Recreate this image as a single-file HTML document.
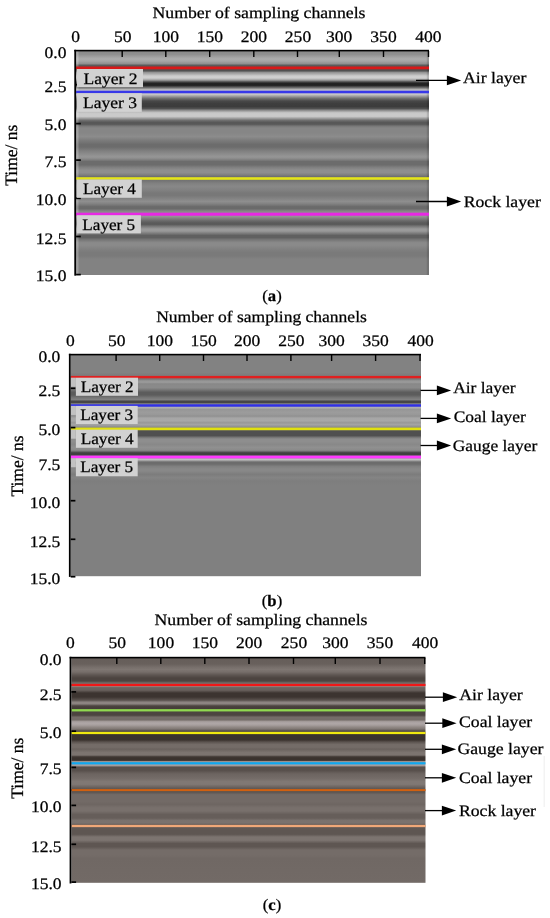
<!DOCTYPE html>
<html><head><meta charset="utf-8"><title>Radar profiles</title>
<style>
html,body{margin:0;padding:0;background:#fff;}
body{width:550px;height:918px;overflow:hidden;}
svg{display:block;font-family:"Liberation Serif","Times New Roman",serif;font-size:16px;fill:#000;text-rendering:geometricPrecision;}
text{stroke:#000;stroke-width:0.25px;}
</style></head><body>
<svg width="550" height="918" viewBox="0 0 550 918">
<defs><linearGradient id="ga" gradientUnits="userSpaceOnUse" x1="0" y1="51" x2="0" y2="275.0"><stop offset="0.0000" stop-color="#888888"/><stop offset="0.0156" stop-color="#909090"/><stop offset="0.0304" stop-color="#a6a6a6"/><stop offset="0.0357" stop-color="#acacac"/><stop offset="0.0446" stop-color="#a6a6a6"/><stop offset="0.0567" stop-color="#909090"/><stop offset="0.0638" stop-color="#5c5c5c"/><stop offset="0.0683" stop-color="#585858"/><stop offset="0.0848" stop-color="#505050"/><stop offset="0.0893" stop-color="#525252"/><stop offset="0.0946" stop-color="#909090"/><stop offset="0.1036" stop-color="#b0b0b0"/><stop offset="0.1116" stop-color="#cecece"/><stop offset="0.1205" stop-color="#d0d0d0"/><stop offset="0.1295" stop-color="#a0a0a0"/><stop offset="0.1384" stop-color="#484848"/><stop offset="0.1442" stop-color="#242424"/><stop offset="0.1531" stop-color="#202020"/><stop offset="0.1621" stop-color="#606060"/><stop offset="0.1696" stop-color="#a0a0a0"/><stop offset="0.1737" stop-color="#c4c4c4"/><stop offset="0.1924" stop-color="#cccccc"/><stop offset="0.2000" stop-color="#a8a8a8"/><stop offset="0.2116" stop-color="#707070"/><stop offset="0.2232" stop-color="#484848"/><stop offset="0.2348" stop-color="#3e3e3e"/><stop offset="0.2478" stop-color="#3c3c3c"/><stop offset="0.2567" stop-color="#505050"/><stop offset="0.2656" stop-color="#909090"/><stop offset="0.2741" stop-color="#c0c0c0"/><stop offset="0.2799" stop-color="#cacaca"/><stop offset="0.2920" stop-color="#cacaca"/><stop offset="0.3004" stop-color="#a0a0a0"/><stop offset="0.3094" stop-color="#707070"/><stop offset="0.3183" stop-color="#585858"/><stop offset="0.3268" stop-color="#585858"/><stop offset="0.3357" stop-color="#787878"/><stop offset="0.3438" stop-color="#868686"/><stop offset="0.3647" stop-color="#868686"/><stop offset="0.3821" stop-color="#8c8c8c"/><stop offset="0.4000" stop-color="#7a7a7a"/><stop offset="0.4174" stop-color="#6c6c6c"/><stop offset="0.4286" stop-color="#6c6c6c"/><stop offset="0.4464" stop-color="#808080"/><stop offset="0.4670" stop-color="#929292"/><stop offset="0.4732" stop-color="#969696"/><stop offset="0.4821" stop-color="#888888"/><stop offset="0.4933" stop-color="#6c6c6c"/><stop offset="0.5080" stop-color="#6c6c6c"/><stop offset="0.5196" stop-color="#808080"/><stop offset="0.5312" stop-color="#8e8e8e"/><stop offset="0.5433" stop-color="#8e8e8e"/><stop offset="0.5549" stop-color="#7c7c7c"/><stop offset="0.5594" stop-color="#707070"/><stop offset="0.5799" stop-color="#747474"/><stop offset="0.5897" stop-color="#808080"/><stop offset="0.6045" stop-color="#888888"/><stop offset="0.6219" stop-color="#808080"/><stop offset="0.6339" stop-color="#787878"/><stop offset="0.6455" stop-color="#787878"/><stop offset="0.6598" stop-color="#848484"/><stop offset="0.6719" stop-color="#8e8e8e"/><stop offset="0.6830" stop-color="#808080"/><stop offset="0.6951" stop-color="#6a6a6a"/><stop offset="0.7040" stop-color="#6a6a6a"/><stop offset="0.7125" stop-color="#808080"/><stop offset="0.7188" stop-color="#8c8c8c"/><stop offset="0.7388" stop-color="#949494"/><stop offset="0.7478" stop-color="#808080"/><stop offset="0.7589" stop-color="#686868"/><stop offset="0.7679" stop-color="#5a5a5a"/><stop offset="0.7741" stop-color="#5a5a5a"/><stop offset="0.7830" stop-color="#787878"/><stop offset="0.7946" stop-color="#9a9a9a"/><stop offset="0.8036" stop-color="#9a9a9a"/><stop offset="0.8125" stop-color="#808080"/><stop offset="0.8237" stop-color="#606060"/><stop offset="0.8326" stop-color="#606060"/><stop offset="0.8415" stop-color="#747474"/><stop offset="0.8558" stop-color="#8a8a8a"/><stop offset="0.8674" stop-color="#8a8a8a"/><stop offset="0.8853" stop-color="#808080"/><stop offset="0.8996" stop-color="#7a7a7a"/><stop offset="0.9143" stop-color="#7a7a7a"/><stop offset="0.9286" stop-color="#828282"/><stop offset="0.9978" stop-color="#828282"/></linearGradient><linearGradient id="gb" gradientUnits="userSpaceOnUse" x1="0" y1="355" x2="0" y2="576.2"><stop offset="0.0000" stop-color="#828282"/><stop offset="0.0796" stop-color="#828282"/><stop offset="0.0859" stop-color="#7e7e7e"/><stop offset="0.1094" stop-color="#7a7a7a"/><stop offset="0.1175" stop-color="#989898"/><stop offset="0.1243" stop-color="#989898"/><stop offset="0.1302" stop-color="#888888"/><stop offset="0.1388" stop-color="#8a8a8a"/><stop offset="0.1478" stop-color="#8a8a8a"/><stop offset="0.1564" stop-color="#787878"/><stop offset="0.1686" stop-color="#5c5c5c"/><stop offset="0.1804" stop-color="#5c5c5c"/><stop offset="0.1921" stop-color="#747474"/><stop offset="0.2012" stop-color="#808080"/><stop offset="0.2098" stop-color="#464646"/><stop offset="0.2156" stop-color="#464646"/><stop offset="0.2202" stop-color="#828282"/><stop offset="0.2378" stop-color="#b0b0b0"/><stop offset="0.2468" stop-color="#969696"/><stop offset="0.2586" stop-color="#9c9c9c"/><stop offset="0.2703" stop-color="#989898"/><stop offset="0.2762" stop-color="#909090"/><stop offset="0.2848" stop-color="#a6a6a6"/><stop offset="0.2970" stop-color="#a8a8a8"/><stop offset="0.3061" stop-color="#989898"/><stop offset="0.3146" stop-color="#a4a4a4"/><stop offset="0.3223" stop-color="#969696"/><stop offset="0.3445" stop-color="#505050"/><stop offset="0.3653" stop-color="#505050"/><stop offset="0.3707" stop-color="#707070"/><stop offset="0.3797" stop-color="#8e8e8e"/><stop offset="0.3915" stop-color="#8e8e8e"/><stop offset="0.4037" stop-color="#888888"/><stop offset="0.4182" stop-color="#909090"/><stop offset="0.4304" stop-color="#8a8a8a"/><stop offset="0.4376" stop-color="#606060"/><stop offset="0.4421" stop-color="#404040"/><stop offset="0.4507" stop-color="#404040"/><stop offset="0.4715" stop-color="#c3c3c3"/><stop offset="0.4774" stop-color="#a0a0a0"/><stop offset="0.4837" stop-color="#6c6c6c"/><stop offset="0.4928" stop-color="#6c6c6c"/><stop offset="0.5041" stop-color="#808080"/><stop offset="0.5154" stop-color="#888888"/><stop offset="0.5244" stop-color="#888888"/><stop offset="0.5398" stop-color="#7c7c7c"/><stop offset="0.5542" stop-color="#848484"/><stop offset="0.5696" stop-color="#7e7e7e"/><stop offset="0.5877" stop-color="#808080"/><stop offset="0.9991" stop-color="#808080"/></linearGradient><linearGradient id="gc" gradientUnits="userSpaceOnUse" x1="0" y1="658" x2="0" y2="882.8"><stop offset="0.0000" stop-color="#665e5a"/><stop offset="0.0267" stop-color="#68605c"/><stop offset="0.0400" stop-color="#766e6a"/><stop offset="0.0512" stop-color="#7e7672"/><stop offset="0.0623" stop-color="#766e6a"/><stop offset="0.0756" stop-color="#5e5652"/><stop offset="0.0890" stop-color="#4c4440"/><stop offset="0.1023" stop-color="#4c4440"/><stop offset="0.1103" stop-color="#706864"/><stop offset="0.1268" stop-color="#8c8481"/><stop offset="0.1317" stop-color="#6c6460"/><stop offset="0.1437" stop-color="#665e5a"/><stop offset="0.1557" stop-color="#3c3430"/><stop offset="0.1735" stop-color="#3c3430"/><stop offset="0.1882" stop-color="#5c5450"/><stop offset="0.1966" stop-color="#8c8481"/><stop offset="0.2037" stop-color="#8c8481"/><stop offset="0.2131" stop-color="#4c4440"/><stop offset="0.2224" stop-color="#443c38"/><stop offset="0.2429" stop-color="#4c4440"/><stop offset="0.2544" stop-color="#4c4440"/><stop offset="0.2633" stop-color="#746c68"/><stop offset="0.2749" stop-color="#746c68"/><stop offset="0.2834" stop-color="#a8a09f"/><stop offset="0.2909" stop-color="#aea6a6"/><stop offset="0.2980" stop-color="#a8a09f"/><stop offset="0.3069" stop-color="#928a87"/><stop offset="0.3158" stop-color="#807874"/><stop offset="0.3230" stop-color="#5c5450"/><stop offset="0.3416" stop-color="#3a322e"/><stop offset="0.3648" stop-color="#3a322e"/><stop offset="0.3737" stop-color="#5c5450"/><stop offset="0.3852" stop-color="#746c68"/><stop offset="0.3972" stop-color="#746c68"/><stop offset="0.4057" stop-color="#6a625e"/><stop offset="0.4204" stop-color="#7c7470"/><stop offset="0.4319" stop-color="#7c7470"/><stop offset="0.4377" stop-color="#4c4440"/><stop offset="0.4435" stop-color="#3a322e"/><stop offset="0.4555" stop-color="#3a322e"/><stop offset="0.4595" stop-color="#98908e"/><stop offset="0.4773" stop-color="#ada5a5"/><stop offset="0.4858" stop-color="#58504c"/><stop offset="0.5004" stop-color="#58504c"/><stop offset="0.5151" stop-color="#6c6460"/><stop offset="0.5356" stop-color="#746c68"/><stop offset="0.5498" stop-color="#807874"/><stop offset="0.5618" stop-color="#807874"/><stop offset="0.5716" stop-color="#706864"/><stop offset="0.5792" stop-color="#625a56"/><stop offset="0.5961" stop-color="#5c5450"/><stop offset="0.6081" stop-color="#726a66"/><stop offset="0.6375" stop-color="#726a66"/><stop offset="0.6517" stop-color="#6e6662"/><stop offset="0.6664" stop-color="#78706c"/><stop offset="0.6806" stop-color="#78706c"/><stop offset="0.6957" stop-color="#665e5a"/><stop offset="0.7117" stop-color="#665e5a"/><stop offset="0.7233" stop-color="#7a726e"/><stop offset="0.7349" stop-color="#7a726e"/><stop offset="0.7393" stop-color="#68605c"/><stop offset="0.7553" stop-color="#605854"/><stop offset="0.7669" stop-color="#5e5652"/><stop offset="0.7843" stop-color="#5e5652"/><stop offset="0.7963" stop-color="#7c7470"/><stop offset="0.8105" stop-color="#7c7470"/><stop offset="0.8252" stop-color="#5e5652"/><stop offset="0.8399" stop-color="#5e5652"/><stop offset="0.8541" stop-color="#746c68"/><stop offset="0.8763" stop-color="#746c68"/><stop offset="0.8919" stop-color="#706864"/><stop offset="0.9991" stop-color="#726a66"/></linearGradient></defs>
<rect width="550" height="918" fill="#fff"/>
<rect x="76.1" y="51" width="352.9" height="224.0" fill="url(#ga)"/>
<rect x="76.1" y="51" width="2.4" height="224.0" fill="#fff" fill-opacity="0.22"/>
<rect x="426.8" y="51" width="2.2" height="224.0" fill="#000" fill-opacity="0.12"/>
<rect x="76.1" y="66.5" width="352.9" height="2.8" fill="#d81818"/>
<rect x="76.1" y="90.7" width="352.9" height="2.6" fill="#3838e8"/>
<rect x="76.1" y="177.2" width="352.9" height="2.6" fill="#e4e418"/>
<rect x="76.1" y="212.7" width="352.9" height="3.0" fill="#e828e4"/>
<rect x="76.1" y="83.85000000000001" width="4.7" height="1.7" fill="#000"/>
<rect x="76.1" y="122.75" width="4.7" height="1.7" fill="#000"/>
<rect x="76.1" y="159.25" width="4.7" height="1.7" fill="#000"/>
<rect x="76.1" y="197.45000000000002" width="4.7" height="1.7" fill="#000"/>
<rect x="76.1" y="235.65" width="4.7" height="1.7" fill="#000"/>
<rect x="76.1" y="273.75" width="4.7" height="1.7" fill="#000"/>
<rect x="77" y="69" width="66" height="18.200000000000003" fill="#d2d2d2"/>
<text transform="translate(83.5 83.6) scale(1.094 1)" text-anchor="start" >Layer 2</text>
<rect x="77" y="93.2" width="64.80000000000001" height="18.700000000000003" fill="#d2d2d2"/>
<text transform="translate(83 107.8) scale(1.094 1)" text-anchor="start" >Layer 3</text>
<rect x="77" y="179.5" width="64.80000000000001" height="18.30000000000001" fill="#d2d2d2"/>
<text transform="translate(83.0 194.3) scale(1.072 1)" text-anchor="start" >Layer 4</text>
<rect x="77" y="215.2" width="63.900000000000006" height="18.200000000000017" fill="#d2d2d2"/>
<text transform="translate(82.3 230.0) scale(1.072 1)" text-anchor="start" >Layer 5</text>
<rect x="74.3" y="49.8" width="1.8" height="225.9" fill="#000"/>
<rect x="74.3" y="49.8" width="354.7" height="1.6" fill="#000"/>
<text transform="translate(75.6 42) scale(1.094 1)" text-anchor="middle" >0</text>
<rect x="121.5" y="51" width="1.4" height="6" fill="#000"/>
<text transform="translate(122.7 42) scale(1.094 1)" text-anchor="middle" >50</text>
<rect x="165.10000000000002" y="51" width="1.4" height="6" fill="#000"/>
<text transform="translate(165.9 42) scale(1.094 1)" text-anchor="middle" >100</text>
<rect x="209.0" y="51" width="1.4" height="6" fill="#000"/>
<text transform="translate(209.8 42) scale(1.094 1)" text-anchor="middle" >150</text>
<rect x="253.10000000000002" y="51" width="1.4" height="6" fill="#000"/>
<text transform="translate(253.8 42) scale(1.094 1)" text-anchor="middle" >200</text>
<rect x="296.8" y="51" width="1.4" height="6" fill="#000"/>
<text transform="translate(298.0 42) scale(1.094 1)" text-anchor="middle" >250</text>
<rect x="338.6" y="51" width="1.4" height="6" fill="#000"/>
<text transform="translate(339.2 42) scale(1.094 1)" text-anchor="middle" >300</text>
<rect x="382.8" y="51" width="1.4" height="6" fill="#000"/>
<text transform="translate(383.5 42) scale(1.094 1)" text-anchor="middle" >350</text>
<rect x="427.8" y="51" width="1.4" height="6" fill="#000"/>
<text transform="translate(428.4 42) scale(1.094 1)" text-anchor="middle" >400</text>
<text transform="translate(66.5 57.7) scale(1.094 1)" text-anchor="end" >0.0</text>
<text transform="translate(66.5 91.8) scale(1.094 1)" text-anchor="end" >2.5</text>
<text transform="translate(66.5 130.0) scale(1.094 1)" text-anchor="end" >5.0</text>
<text transform="translate(66.5 166.5) scale(1.094 1)" text-anchor="end" >7.5</text>
<text transform="translate(66.5 204.5) scale(1.094 1)" text-anchor="end" >10.0</text>
<text transform="translate(66.5 243.5) scale(1.094 1)" text-anchor="end" >12.5</text>
<text transform="translate(66.5 280.9) scale(1.094 1)" text-anchor="end" >15.0</text>
<text transform="translate(259 18) scale(1.107 1)" text-anchor="middle" >Number of sampling channels</text>
<text transform="translate(17.3 155.2) rotate(-90)" text-anchor="middle" font-size="17.5">Time/ ns</text>
<path d="M416 80.4H453.2" stroke="#000" stroke-width="1.3" fill="none"/>
<path d="M461.2 80.4L446.9 75.5L446.9 85.30000000000001Z" fill="#000"/>
<text transform="translate(463.0 83.1) scale(1.105 1)" text-anchor="start" >Air layer</text>
<path d="M416 201.5H453.2" stroke="#000" stroke-width="1.3" fill="none"/>
<path d="M461.2 201.5L446.9 196.6L446.9 206.4Z" fill="#000"/>
<text transform="translate(463.7 207.3) scale(1.105 1)" text-anchor="start" >Rock layer</text>
<text transform="translate(272 301.4) scale(1.04 1)" text-anchor="middle" font-size="16">(<tspan font-weight="bold">a</tspan>)</text>
<rect x="70.7" y="355" width="350.3" height="221.20000000000005" fill="url(#gb)"/>
<rect x="70.7" y="375.90000000000003" width="350.3" height="2.4" fill="#e02020"/>
<rect x="70.7" y="404.3" width="350.3" height="2.4" fill="#3030e8"/>
<rect x="70.7" y="427.59999999999997" width="350.3" height="2.6" fill="#e0e010"/>
<rect x="70.7" y="455.6" width="350.3" height="2.8" fill="#ff38ff"/>
<rect x="70.7" y="387.45" width="4.7" height="1.7" fill="#000"/>
<rect x="70.7" y="426.75" width="4.7" height="1.7" fill="#000"/>
<rect x="70.7" y="462.15" width="4.7" height="1.7" fill="#000"/>
<rect x="70.7" y="499.84999999999997" width="4.7" height="1.7" fill="#000"/>
<rect x="70.7" y="538.4499999999999" width="4.7" height="1.7" fill="#000"/>
<rect x="70.7" y="575.85" width="4.7" height="1.7" fill="#000"/>
<rect x="75.9" y="377.7" width="62.099999999999994" height="18.100000000000023" fill="#d2d2d2"/>
<text transform="translate(80.7 392.2) scale(1.075 1)" text-anchor="start" >Layer 2</text>
<rect x="70.7" y="377.7" width="5.200000000000003" height="9.050000000000011" fill="#c2c2c2"/>
<rect x="75.9" y="405.9" width="61.79999999999998" height="18.100000000000023" fill="#d2d2d2"/>
<text transform="translate(80.2 420) scale(1.075 1)" text-anchor="start" >Layer 3</text>
<rect x="70.7" y="405.9" width="5.200000000000003" height="9.050000000000011" fill="#c2c2c2"/>
<rect x="75.9" y="429.7" width="61.79999999999998" height="18.100000000000023" fill="#d2d2d2"/>
<text transform="translate(80.7 444.2) scale(1.075 1)" text-anchor="start" >Layer 4</text>
<rect x="70.7" y="429.7" width="5.200000000000003" height="9.050000000000011" fill="#c2c2c2"/>
<rect x="75.9" y="458.3" width="61.79999999999998" height="18.0" fill="#d2d2d2"/>
<text transform="translate(80.2 472.4) scale(1.075 1)" text-anchor="start" >Layer 5</text>
<rect x="70.7" y="458.3" width="5.200000000000003" height="9.0" fill="#c2c2c2"/>
<rect x="68.9" y="353.8" width="1.8" height="223.10000000000005" fill="#000"/>
<rect x="68.9" y="353.8" width="352.1" height="1.6" fill="#000"/>
<text transform="translate(70.3 345.8) scale(1.094 1)" text-anchor="middle" >0</text>
<rect x="115.39999999999999" y="355" width="1.4" height="6" fill="#000"/>
<text transform="translate(116.8 345.8) scale(1.094 1)" text-anchor="middle" >50</text>
<rect x="159.0" y="355" width="1.4" height="6" fill="#000"/>
<text transform="translate(159.9 345.8) scale(1.094 1)" text-anchor="middle" >100</text>
<rect x="202.8" y="355" width="1.4" height="6" fill="#000"/>
<text transform="translate(203.6 345.8) scale(1.094 1)" text-anchor="middle" >150</text>
<rect x="246.3" y="355" width="1.4" height="6" fill="#000"/>
<text transform="translate(247.2 345.8) scale(1.094 1)" text-anchor="middle" >200</text>
<rect x="290.2" y="355" width="1.4" height="6" fill="#000"/>
<text transform="translate(291.4 345.8) scale(1.094 1)" text-anchor="middle" >250</text>
<rect x="330.90000000000003" y="355" width="1.4" height="6" fill="#000"/>
<text transform="translate(331.6 345.8) scale(1.094 1)" text-anchor="middle" >300</text>
<rect x="374.90000000000003" y="355" width="1.4" height="6" fill="#000"/>
<text transform="translate(375.6 345.8) scale(1.094 1)" text-anchor="middle" >350</text>
<rect x="419.3" y="355" width="1.4" height="6" fill="#000"/>
<text transform="translate(420.6 345.8) scale(1.094 1)" text-anchor="middle" >400</text>
<text transform="translate(60.3 361.9) scale(1.094 1)" text-anchor="end" >0.0</text>
<text transform="translate(60.3 395.9) scale(1.094 1)" text-anchor="end" >2.5</text>
<text transform="translate(60.3 434.7) scale(1.094 1)" text-anchor="end" >5.0</text>
<text transform="translate(60.3 470.3) scale(1.094 1)" text-anchor="end" >7.5</text>
<text transform="translate(60.3 507.8) scale(1.094 1)" text-anchor="end" >10.0</text>
<text transform="translate(60.3 546.9) scale(1.094 1)" text-anchor="end" >12.5</text>
<text transform="translate(60.3 583.8) scale(1.094 1)" text-anchor="end" >15.0</text>
<text transform="translate(261.5 321.8) scale(1.095 1)" text-anchor="middle" >Number of sampling channels</text>
<text transform="translate(22.7 466) rotate(-90)" text-anchor="middle" font-size="17.5">Time/ ns</text>
<path d="M420.5 390.4H443.2" stroke="#000" stroke-width="1.3" fill="none"/>
<path d="M451.2 390.4L436.9 385.5L436.9 395.29999999999995Z" fill="#000"/>
<text transform="translate(453.2 393.1) scale(1.088 1)" text-anchor="start" >Air layer</text>
<path d="M420.5 418.4H443.2" stroke="#000" stroke-width="1.3" fill="none"/>
<path d="M451.2 418.4L436.9 413.5L436.9 423.29999999999995Z" fill="#000"/>
<text transform="translate(453.7 422.3) scale(1.088 1)" text-anchor="start" >Coal layer</text>
<path d="M420.5 445.5H443.2" stroke="#000" stroke-width="1.3" fill="none"/>
<path d="M451.2 445.5L436.9 440.6L436.9 450.4Z" fill="#000"/>
<text transform="translate(452.7 450.9) scale(1.088 1)" text-anchor="start" >Gauge layer</text>
<text transform="translate(272 605.6) scale(1.04 1)" text-anchor="middle" font-size="16">(<tspan font-weight="bold">b</tspan>)</text>
<rect x="71.4" y="658" width="354.1" height="224.79999999999995" fill="url(#gc)"/>
<rect x="71.4" y="683.85" width="354.1" height="2.3" fill="#f01818"/>
<rect x="71.4" y="709.15" width="354.1" height="2.3" fill="#90d850"/>
<rect x="71.4" y="731.9" width="354.1" height="2.2" fill="#f0e810"/>
<rect x="71.4" y="762.1999999999999" width="354.1" height="2.2" fill="#10a8f0"/>
<rect x="71.4" y="789.1" width="354.1" height="2.0" fill="#d06010"/>
<rect x="71.4" y="824.85" width="354.1" height="2.3" fill="#f0a878"/>
<rect x="71.4" y="691.05" width="4.7" height="1.7" fill="#000"/>
<rect x="71.4" y="730.35" width="4.7" height="1.7" fill="#000"/>
<rect x="71.4" y="766.55" width="4.7" height="1.7" fill="#000"/>
<rect x="71.4" y="804.55" width="4.7" height="1.7" fill="#000"/>
<rect x="71.4" y="843.4499999999999" width="4.7" height="1.7" fill="#000"/>
<rect x="71.4" y="881.25" width="4.7" height="1.7" fill="#000"/>
<rect x="69.60000000000001" y="656.8" width="1.8" height="226.69999999999996" fill="#000"/>
<rect x="69.60000000000001" y="656.8" width="355.90000000000003" height="1.6" fill="#000"/>
<text transform="translate(70.3 648.2) scale(1.094 1)" text-anchor="middle" >0</text>
<rect x="116.1" y="658" width="1.4" height="6" fill="#000"/>
<text transform="translate(117.3 648.2) scale(1.094 1)" text-anchor="middle" >50</text>
<rect x="160.10000000000002" y="658" width="1.4" height="6" fill="#000"/>
<text transform="translate(161.0 648.2) scale(1.094 1)" text-anchor="middle" >100</text>
<rect x="204.10000000000002" y="658" width="1.4" height="6" fill="#000"/>
<text transform="translate(204.8 648.2) scale(1.094 1)" text-anchor="middle" >150</text>
<rect x="248.3" y="658" width="1.4" height="6" fill="#000"/>
<text transform="translate(249.1 648.2) scale(1.094 1)" text-anchor="middle" >200</text>
<rect x="292.8" y="658" width="1.4" height="6" fill="#000"/>
<text transform="translate(294.0 648.2) scale(1.094 1)" text-anchor="middle" >250</text>
<rect x="334.6" y="658" width="1.4" height="6" fill="#000"/>
<text transform="translate(335.3 648.2) scale(1.094 1)" text-anchor="middle" >300</text>
<rect x="379.3" y="658" width="1.4" height="6" fill="#000"/>
<text transform="translate(380.0 648.2) scale(1.094 1)" text-anchor="middle" >350</text>
<rect x="424.0" y="658" width="1.4" height="6" fill="#000"/>
<text transform="translate(425.2 648.2) scale(1.094 1)" text-anchor="middle" >400</text>
<text transform="translate(61.6 664.5) scale(1.094 1)" text-anchor="end" >0.0</text>
<text transform="translate(61.6 699.5) scale(1.094 1)" text-anchor="end" >2.5</text>
<text transform="translate(61.6 738.3) scale(1.094 1)" text-anchor="end" >5.0</text>
<text transform="translate(61.6 774.1) scale(1.094 1)" text-anchor="end" >7.5</text>
<text transform="translate(61.6 812.2) scale(1.094 1)" text-anchor="end" >10.0</text>
<text transform="translate(61.6 851.9) scale(1.094 1)" text-anchor="end" >12.5</text>
<text transform="translate(61.6 889.2) scale(1.094 1)" text-anchor="end" >15.0</text>
<text transform="translate(261 624.5) scale(1.107 1)" text-anchor="middle" >Number of sampling channels</text>
<text transform="translate(22.7 768.2) rotate(-90)" text-anchor="middle" font-size="17.5">Time/ ns</text>
<path d="M425 697.2H449.2" stroke="#000" stroke-width="1.3" fill="none"/>
<path d="M457.2 697.2L442.9 692.3000000000001L442.9 702.1Z" fill="#000"/>
<text transform="translate(459.3 699.6) scale(1.105 1)" text-anchor="start" >Air layer</text>
<path d="M425 723.2H448.59999999999997" stroke="#000" stroke-width="1.3" fill="none"/>
<path d="M456.59999999999997 723.2L442.29999999999995 718.3000000000001L442.29999999999995 728.1Z" fill="#000"/>
<text transform="translate(459.0 727.1) scale(1.105 1)" text-anchor="start" >Coal layer</text>
<path d="M425 749.3H448.2" stroke="#000" stroke-width="1.3" fill="none"/>
<path d="M456.2 749.3L441.9 744.4L441.9 754.1999999999999Z" fill="#000"/>
<text transform="translate(457.5 754.3) scale(1.105 1)" text-anchor="start" >Gauge layer</text>
<path d="M425 777.8H448.2" stroke="#000" stroke-width="1.3" fill="none"/>
<path d="M456.2 777.8L441.9 772.9L441.9 782.6999999999999Z" fill="#000"/>
<text transform="translate(458.9 782.7) scale(1.105 1)" text-anchor="start" >Coal layer</text>
<path d="M425 810.6H448.2" stroke="#000" stroke-width="1.3" fill="none"/>
<path d="M456.2 810.6L441.9 805.7L441.9 815.5Z" fill="#000"/>
<text transform="translate(458.9 816.4) scale(1.105 1)" text-anchor="start" >Rock layer</text>
<text transform="translate(272 910.4) scale(1.04 1)" text-anchor="middle" font-size="16">(<tspan font-weight="bold">c</tspan>)</text>
<rect x="543.6" y="756" width="1.2" height="51" fill="#f1f1f1"/>
</svg>
</body></html>
